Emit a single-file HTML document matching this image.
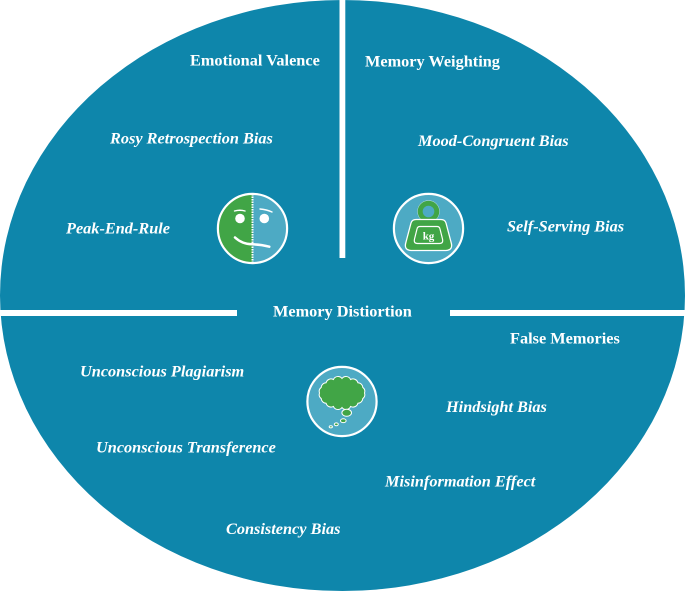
<!DOCTYPE html>
<html><head><meta charset="utf-8"><style>
html,body{margin:0;padding:0;background:#fff}
svg{display:block}
text{font-family:"Liberation Serif",serif;font-weight:bold;font-size:16.3px;fill:#fff}
.i{font-style:italic}
</style></head><body>
<svg width="685" height="591" viewBox="0 0 685 591" xmlns="http://www.w3.org/2000/svg">
<ellipse cx="342.5" cy="295.5" rx="342.5" ry="295.5" fill="#0e86ab"/>
<rect x="339.5" y="0" width="5.8" height="258" fill="#fff"/>
<rect x="0" y="310" width="237" height="6" fill="#fff"/>
<rect x="450" y="310" width="235" height="6" fill="#fff"/>

<text x="190" y="65.500">Emotional Valence</text>
<text x="365" y="66.500">Memory Weighting</text>
<text x="110" y="143.500" class="i">Rosy Retrospection Bias</text>
<text x="418" y="146" class="i">Mood-Congruent Bias</text>
<text x="66" y="233.500" class="i">Peak-End-Rule</text>
<text x="507" y="231.500" class="i">Self-Serving Bias</text>
<text x="273" y="316.500">Memory Distiortion</text>
<text x="510" y="343.500">False Memories</text>
<text x="80" y="376.500" class="i">Unconscious Plagiarism</text>
<text x="446" y="412" class="i">Hindsight Bias</text>
<text x="96" y="452.500" class="i">Unconscious Transference</text>
<text x="385" y="486.500" class="i">Misinformation Effect</text>
<text x="226" y="534" class="i">Consistency Bias</text>

<!-- face -->
<circle cx="252.500" cy="228.500" r="34.600" fill="#4daac4"/>
<path d="M252.500 193.900a34.600 34.600 0 0 0 0 69.200z" fill="#41a546"/>
<circle cx="252.500" cy="228.500" r="34.600" fill="none" stroke="#fff" stroke-width="2.200"/>
<line x1="252.500" y1="194" x2="252.500" y2="263" stroke="#fff" stroke-width="2" stroke-dasharray="1.500 1"/>
<circle cx="240" cy="218.500" r="4.800" fill="#fff"/>
<circle cx="264.300" cy="218.500" r="4.800" fill="#fff"/>
<path d="M234.500 211q5.500-1.500 10.500 0M260 209q6.500 .5 12 3" fill="none" stroke="#fff" stroke-width="1.400" stroke-linecap="round"/>
<path d="M235 237.500q7 6.500 17 6.800q9 .2 17.300 2.400" fill="none" stroke="#fff" stroke-width="2.500" stroke-linecap="round"/>

<!-- weight -->
<circle cx="428.500" cy="228.500" r="34.600" fill="#4daac4" stroke="#fff" stroke-width="2.200"/>
<circle cx="428.500" cy="211.500" r="11.200" fill="#fff" opacity=".7"/>
<circle cx="428.500" cy="211.500" r="8.300" fill="#4daac4" stroke="#41a546" stroke-width="5"/>
<path d="M416 219.500h25q4 0 5 3.500l5 19q2.500 8-5 8.500h-35q-7.500-.5-5-8.500l5-19q1-3.500 5-3.500z" fill="#41a546" stroke="#fff" stroke-width="1.300"/>
<path d="M420 226.500h17q2.500 0 3 2.500l2.500 10q1 4.500-3 4.500h-22q-4 0-3-4.500l2.500-10q.5-2.500 3-2.500z" fill="#41a546" stroke="#fff" stroke-width="1.200"/>
<text x="428.500" y="239.500" text-anchor="middle" style="font-size:11px">kg</text>

<!-- thought -->
<circle cx="342" cy="401.500" r="34.600" fill="#4daac4" stroke="#fff" stroke-width="2.200"/>
<path d="M364.500 393A5 5 0 0 1 362.800 398.550A5 5 0 0 1 357.900 403.250A5 5 0 0 1 350.600 406.400A5 5 0 0 1 342 407.500A5 5 0 0 1 333.400 406.400A5 5 0 0 1 326.100 403.250A5 5 0 0 1 321.200 398.550A5 5 0 0 1 319.500 393A5 5 0 0 1 321.200 387.450A5 5 0 0 1 326.100 382.750A5 5 0 0 1 333.400 379.600A5 5 0 0 1 342 378.500A5 5 0 0 1 350.600 379.600A5 5 0 0 1 357.900 382.750A5 5 0 0 1 362.800 387.450A5 5 0 0 1 364.500 393z" fill="#41a546" stroke="#fff" stroke-width="1"/>
<ellipse cx="346.700" cy="412.800" rx="4.800" ry="3.500" fill="#41a546" stroke="#fff" stroke-width="1"/>
<ellipse cx="343.300" cy="420.700" rx="2.800" ry="1.900" fill="#41a546" stroke="#fff" stroke-width="1"/>
<ellipse cx="336.300" cy="424.300" rx="2" ry="1.400" fill="#41a546" stroke="#fff" stroke-width="1"/>
<ellipse cx="330.800" cy="426.800" rx="1.600" ry="1.100" fill="#41a546" stroke="#fff" stroke-width="1"/>
</svg>
</body></html>
